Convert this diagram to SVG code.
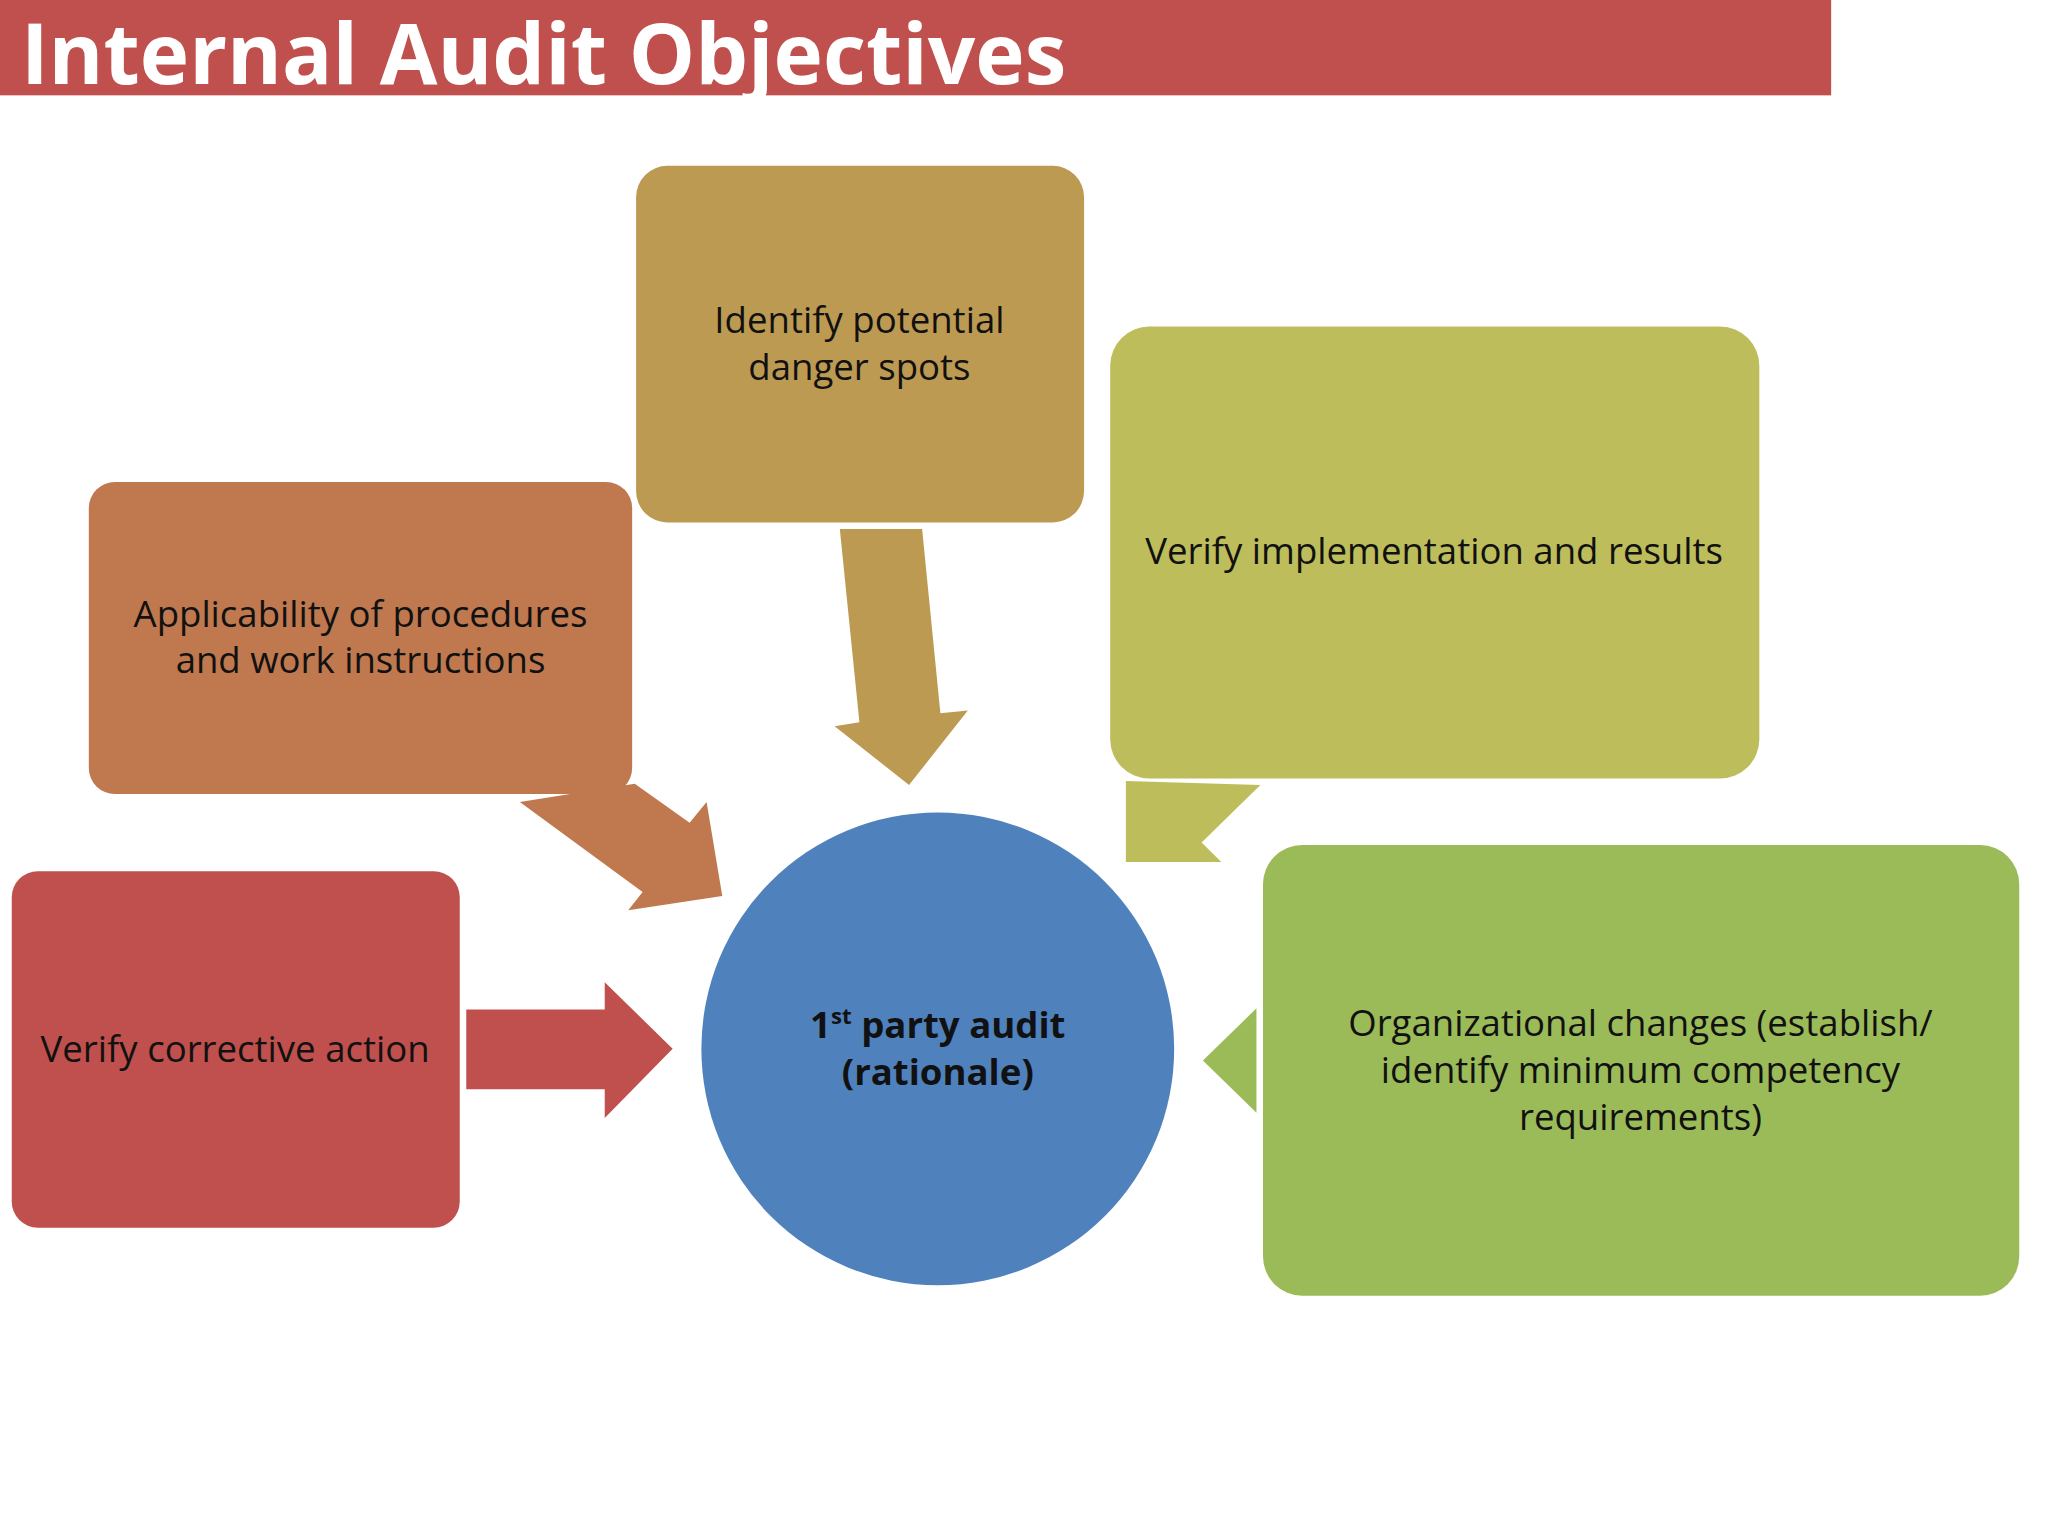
<svg xmlns="http://www.w3.org/2000/svg" width="2048" height="1536" viewBox="0 0 2048 1536">
<style>
.t{font-family:"Open Sans","Liberation Sans",sans-serif;font-size:28px;fill:#111;text-anchor:middle}
.b{font-weight:bold}
</style>
<rect width="2048" height="1536" fill="#fff"/>
<g transform="scale(1.3061)">
<g id="title"><rect x="0" y="0" width="1402" height="73" fill="#C0504D"/>
<text x="16" y="64" font-family="Open Sans,Liberation Sans,sans-serif" font-weight="bold" font-size="64" fill="#fff">Internal Audit Objectives</text></g>
<g id="connectors">
<polygon points="643,405 706,405 720,546 741,544 696,601 639,556 658,553" fill="#BD9A52"/>
<polygon points="486,600 528,630 541,614 553,686 481,697 492,683 398,614" fill="#C0784F"/>
<polygon points="357,773 463,773 463,752 515,803 463,856 463,834 357,834" fill="#C0504D"/>
<polygon points="862,598 965,601 920,645 935,660 862,660" fill="#BDBD5B"/>
<polygon points="962,772 962,852 921,812" fill="#9BBB59"/>
</g>
<g id="n-gold"><rect x="487" y="127" width="343" height="273" rx="24" fill="#BD9A52"/>
<text class="t" x="658" y="255">Identify potential</text><text class="t" x="658" y="291">danger spots</text></g>
<g id="n-orange"><rect x="68" y="369" width="416" height="239" rx="20" fill="#C0784F"/>
<text class="t" x="276" y="480">Applicability of procedures</text><text class="t" x="276" y="515">and work instructions</text></g>
<g id="n-red"><rect x="9" y="667" width="343" height="273" rx="20" fill="#C0504D"/>
<text class="t" x="180" y="813">Verify corrective action</text></g>
<g id="n-yellow"><rect x="850" y="250" width="497" height="346" rx="30" fill="#BDBD5B"/>
<text class="t" x="1098" y="432">Verify implementation and results</text></g>
<g id="n-green"><rect x="967" y="647" width="579" height="345" rx="30" fill="#9BBB59"/>
<text class="t" x="1256" y="793">Organizational changes (establish/</text><text class="t" x="1256" y="829">identify minimum competency</text><text class="t" x="1256" y="865">requirements)</text></g>
<g id="n-center"><circle cx="718" cy="803" r="181" fill="#4F81BD"/>
<text class="t b" x="718" y="795">1<tspan font-size="17" dy="-11">st</tspan><tspan dy="11"> party audit</tspan></text>
<text class="t b" x="718" y="831">(rationale)</text></g>
</g>
</svg>
